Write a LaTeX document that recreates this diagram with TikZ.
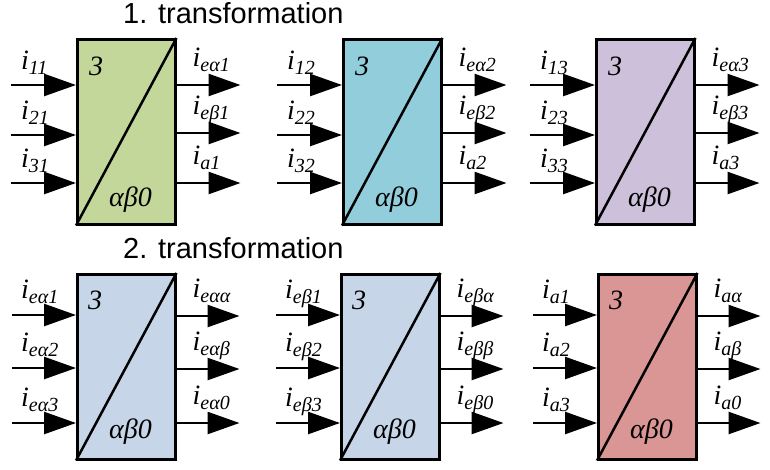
\documentclass[tikz,border=0pt]{standalone}
\usepackage{fontspec}
\setmainfont{Liberation Serif}
\newfontfamily\titlefont{Liberation Sans}
\usetikzlibrary{arrows.meta,calc}

\definecolor{olv}{HTML}{C4D79B}
\definecolor{cyn}{HTML}{92CDDC}
\definecolor{lav}{HTML}{CCC0DA}
\definecolor{stb}{HTML}{C6D5E8}
\definecolor{ros}{HTML}{DA9694}

% current label i_{...}
\newcommand\cur[1]{\textit{i}\raisebox{-5pt}{\fontsize{20}{20}\selectfont\itshape #1}}

\tikzset{
  trafo/.style={draw, line width=2.5pt, minimum width=98pt, minimum height=185pt,
    inner sep=0pt, anchor=north west},
  sig/.style={line width=2.5pt, -{Triangle[length=32pt,width=22pt]}},
  lbl/.style={font=\fontsize{28}{28}\selectfont, anchor=base west, inner sep=0pt},
  ttl/.style={font=\titlefont\fontsize{29}{29}\selectfont, anchor=base west, inner sep=0pt},
}

\begin{document}
\begin{tikzpicture}[x=1pt,y=-1pt]
  \useasboundingbox (0,0) rectangle (770,469);

  % Titles
  \node[ttl] (t1) at (123,23) {1. transformation};
  \node[ttl] (t2) at (123,258) {2. transformation};

  % First transformation
  \foreach \k/\xl/\col in {1/76/olv,2/342/cyn,3/595/lav}{
    \node[trafo, fill=\col] (b\k) at (\xl,38) {};
    \draw[line width=2.5pt] (b\k.south west) -- (b\k.north east);
    \node[lbl] at ($(b\k.north west)+(13,37)$) {\textit{3}};
    \node[lbl] at ($(b\k.south west)+(33,-19)$) {\textit{αβ0}};
    % inputs
    \foreach \j/\dy in {1/47,2/97,3/145}{
      \coordinate (i\k\j) at ($(b\k.north west)+(-65,\dy)$);
      \draw[sig] (i\k\j) -- (i\k\j -| b\k.west);
      \node[lbl] at ($(i\k\j)+(10,-16)$) {\cur{\j\k}};
    }
    % outputs
    \foreach \j/\dy/\sub in {1/47/eα\k,2/95/eβ\k,3/145/a\k}{
      \coordinate (o\k\j) at ($(b\k.north east)+(64,\dy)$);
      \draw[sig] (o\k\j -| b\k.east) -- (o\k\j);
      \node[lbl] at ($(o\k\j -| b\k.east)+(16,-19)$) {\cur{\sub}};
    }
  }

  % Second transformation
  \foreach \k/\pre/\xl/\col in {4/eα/76/stb,5/eβ/340/stb,6/a/597/ros}{
    \node[trafo, fill=\col] (b\k) at (\xl,273) {};
    \draw[line width=2.5pt] (b\k.south west) -- (b\k.north east);
    \node[lbl] at ($(b\k.north west)+(12,36)$) {\textit{3}};
    \node[lbl] at ($(b\k.south west)+(33,-22)$) {\textit{αβ0}};
    % inputs
    \foreach \j/\dy in {1/42,2/95,3/150}{
      \coordinate (i\k\j) at ($(b\k.north west)+(-64,\dy)$);
      \draw[sig] (i\k\j) -- (i\k\j -| b\k.west);
      \node[lbl] at ($(i\k\j)+(9,-17)$) {\cur{\pre\j}};
    }
    % outputs
    \foreach \j/\dy/\sub in {1/43/α,2/96/β,3/150/0}{
      \coordinate (o\k\j) at ($(b\k.north east)+(63,\dy)$);
      \draw[sig] (o\k\j -| b\k.east) -- (o\k\j);
      \node[lbl] at ($(o\k\j -| b\k.east)+(16,-19)$) {\cur{\pre\sub}};
    }
  }
\end{tikzpicture}
\end{document}
